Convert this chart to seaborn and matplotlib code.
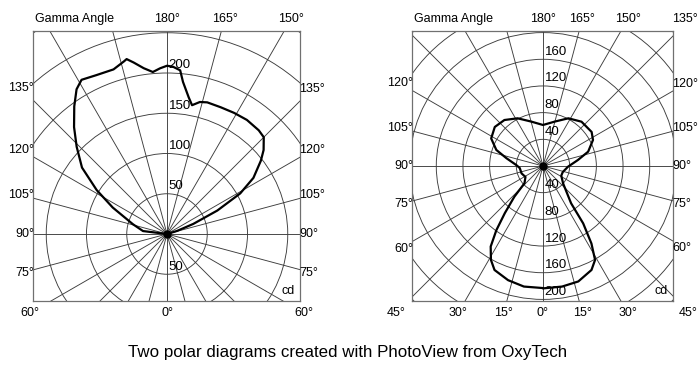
import numpy as np
import pandas as pd
import matplotlib
matplotlib.use("Agg")
import matplotlib.pyplot as plt
from matplotlib.patches import Circle
import seaborn as sns

# ---- data: gamma angle (deg) and intensity (cd) ----
# left diagram, left half (C-plane drawn to the left), gamma 90 -> 180
left_a_gamma = [90, 97, 106, 116, 122, 128, 134, 139, 144, 148, 151, 156, 162, 166, 167, 169, 172, 175, 177.6, 180]
left_a_cd = [0, 30, 44, 75, 103, 134, 156, 176, 196, 212, 219, 216, 215, 221, 223, 217, 208, 202, 206, 209]
# left diagram, right half, gamma 180 -> 105
left_b_gamma = [180, 178, 175.4, 174, 171, 169, 166, 163, 157, 151, 145, 138.5, 135, 131, 128, 123, 119, 115, 111, 107, 105]
left_b_cd = [209, 208, 204, 190, 172, 163, 169, 171, 171, 172, 173, 172, 170, 159, 148, 128, 104, 69, 35, 13, 0]

# right diagram, left half, gamma 0 -> 180
right_a_gamma = [0, 9, 17, 25, 29, 33, 36, 39, 43, 47, 58, 71, 85, 92, 102, 109, 118, 129, 140, 152, 165, 180]
right_a_cd = [183, 183, 179, 172, 161, 144, 119, 91, 63, 38, 31, 34, 35, 40, 56, 74, 88, 93, 90, 81, 69, 61.5]
# right diagram, right half, gamma 180 -> 0
right_b_gamma = [180, 165, 152, 139, 125, 117.5, 107.6, 99.7, 88.4, 73, 62, 49, 37, 35, 32, 29, 25, 17, 9, 0]
right_b_cd = [61.5, 69, 81, 88, 89, 84.5, 71, 53, 37.5, 31, 31, 40, 70, 105, 137, 161, 172, 181, 183, 183.5]

# ring values and labels
left_rings = [50, 100, 150, 200, 250, 300]
left_ring_labels_up = [50, 100, 150, 200]
left_ring_labels_down = [50]
right_rings = [40, 80, 120, 160, 200, 240, 280]
right_ring_labels_up = [40, 80, 120, 160]
right_ring_labels_down = [40, 80, 120, 160, 200]

# angle labels: (gamma, side) side -1 = left half, +1 = right half
left_top = [(180, 1), (165, 1), (150, 1)]
left_sides = [135, 120, 105, 90, 75]
left_bottom = [(60, -1), (0, 1), (60, 1)]
right_top = [(180, 1), (165, 1), (150, 1), (135, 1)]
right_sides = [120, 105, 90, 75, 60]
right_bottom = [(45, -1), (30, -1), (15, -1), (0, 1), (15, 1), (30, 1), (45, 1)]

caption = "Two polar diagrams created with PhotoView from OxyTech"

sns.set_style("white")
plt.rcParams['font.family'] = ['Liberation Sans', 'DejaVu Sans']
plt.rcParams['text.color'] = 'black'

W, H = 700, 382
fig = plt.figure(figsize=(7, 3.82), dpi=100)

GRID = '#3c3c3c'


def to_xy(gamma, cd, side):
    g = np.radians(np.asarray(gamma, dtype=float))
    r = np.asarray(cd, dtype=float)
    return side * r * np.sin(g), -r * np.cos(g)


def diagram(box, center, s, halves, rings, up_labels, down_labels, top, sides, bottom):
    x0, y0, x1, y1 = box
    cx, cy = center
    ax = fig.add_axes([x0 / W, (H - y1) / H, (x1 - x0) / W, (y1 - y0) / H])
    xl = ((x0 - cx) / s, (x1 - cx) / s)
    yl = ((cy - y1) / s, (cy - y0) / s)
    x_max = (W - 2 - cx) / s  # keep labels inside the figure

    # grid: rings and spokes every 15 deg
    for r in rings:
        ax.add_patch(Circle((0, 0), r, fill=False, ec=GRID, lw=0.65))
    for a in np.arange(0, 360, 15):
        t = np.radians(a)
        L = 1000
        ax.plot([0, L * np.sin(t)], [0, L * np.cos(t)], color=GRID, lw=0.65)
    ax.plot(0, 0, 'o', color='black', ms=5)

    # the curve
    frames = []
    for gam, cd, side in halves:
        x, y = to_xy(gam, cd, side)
        frames.append(pd.DataFrame({'x': x, 'y': y}))
    df = pd.concat(frames, ignore_index=True)
    sns.lineplot(data=df, x='x', y='y', sort=False, estimator=None,
                 color='black', lw=1.6, ax=ax)

    ax.set_xlim(*xl)
    ax.set_ylim(*yl)
    ax.set_xticks([])
    ax.set_yticks([])
    ax.set_xlabel('')
    ax.set_ylabel('')
    for sp in ax.spines.values():
        sp.set_visible(True)
        sp.set_color('#707070')
        sp.set_linewidth(0.9)

    fs = 9
    # ring labels
    for r in up_labels:
        ax.text(1.5 / s, r + 1.5 / s, str(r), ha='left', va='bottom', fontsize=fs + 0.5)
    for r in down_labels:
        ax.text(1.5 / s, -r + 1.5 / s, str(r), ha='left', va='bottom', fontsize=fs + 0.5)

    ext = 12 / s

    def edge_label(x, y, txt):
        if x + 13 / s > x_max:
            ax.text(x_max, y, txt, ha='right', va='center', fontsize=fs, clip_on=False)
        else:
            ax.text(x, y, txt, ha='center', va='center', fontsize=fs, clip_on=False)

    for g, side in top:
        gr = np.radians(g)
        t = (yl[1] + ext) / (-np.cos(gr))
        edge_label(side * t * np.sin(gr), yl[1] + 12 / s, f"{g}°")
    for g, side in bottom:
        gr = np.radians(g)
        t = (yl[0] - ext) / (-np.cos(gr))
        edge_label(side * t * np.sin(gr), yl[0] - 12 / s, f"{g}°")
    for g in sides:
        gr = np.radians(g)
        for side, xe, ha in [(-1, xl[0], 'right'), (1, xl[1], 'left')]:
            t = (abs(xe) + ext) / np.sin(gr)
            y = -t * np.cos(gr)
            ax.text(xe - side * 1 / s, y, f"{g}°", ha=ha, va='center', fontsize=fs, clip_on=False)

    ax.text(xl[0] + 2 / s, yl[1] + 12 / s, "Gamma Angle", ha='left', va='center',
            fontsize=fs, clip_on=False)
    ax.text(xl[1] - 5 / s, yl[0] + 4 / s, "cd", ha='right', va='bottom', fontsize=fs)
    return ax


diagram((33, 31, 300, 301), (167, 234), 0.805,
        [(left_a_gamma, left_a_cd, -1), (left_b_gamma, left_b_cd, 1)],
        left_rings, left_ring_labels_up, left_ring_labels_down,
        left_top, left_sides, left_bottom)

diagram((412, 31, 673, 301), (543, 166), 0.667,
        [(right_a_gamma, right_a_cd, -1), (right_b_gamma, right_b_cd, 1)],
        right_rings, right_ring_labels_up, right_ring_labels_down,
        right_top, right_sides, right_bottom)

fig.text(348 / W, 1 - 352 / H, caption, ha='center', va='center', fontsize=12.2)

fig.savefig("out.png", dpi=100)
